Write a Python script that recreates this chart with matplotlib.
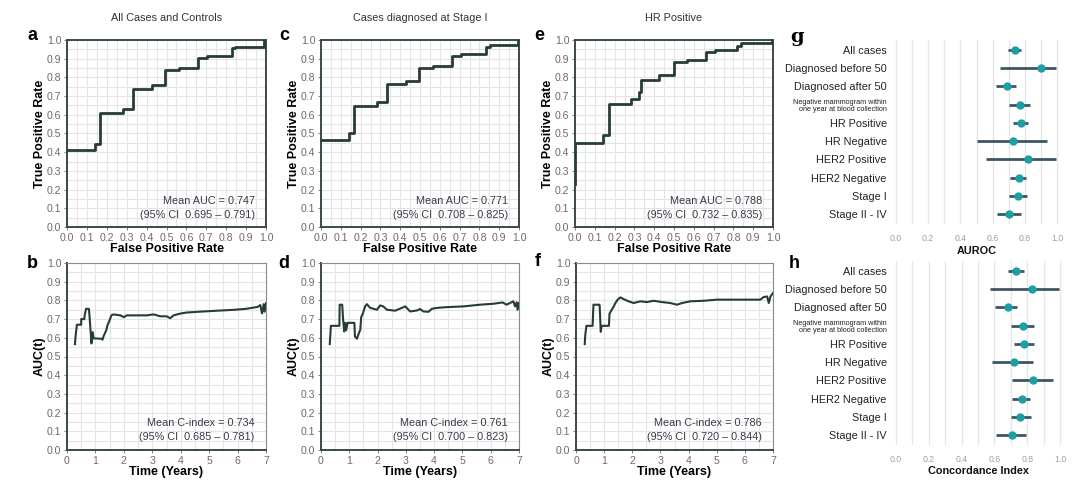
import matplotlib

matplotlib.use("Agg", force=True)
import matplotlib.pyplot as plt
from matplotlib import font_manager
from matplotlib.ticker import MultipleLocator

W, H = 1080, 482

names = {f.name for f in font_manager.fontManager.ttflist}
BASE = "Liberation Sans" if "Liberation Sans" in names else "DejaVu Sans"
NARROW = "Liberation Sans Narrow" if "Liberation Sans Narrow" in names else BASE
plt.rcParams["font.family"] = [BASE, "DejaVu Sans"]

CURVE = "#263d33"
TICK = "#6b6b6b"
GRID = "#e4e4e4"

# ROC step curves (fpr, tpr)
fpr_a = [0, 0.141, 0.166, 0.282, 0.331, 0.425, 0.492, 0.563, 0.659, 0.706, 0.827, 0.845, 0.992, 1.0]
tpr_a = [0.414, 0.446, 0.607, 0.632, 0.738, 0.759, 0.839, 0.852, 0.902, 0.914, 0.955, 0.964, 1.0, 1.0]

fpr_c = [0, 0.141, 0.167, 0.282, 0.333, 0.428, 0.497, 0.568, 0.664, 0.709, 0.833, 0.855, 0.993, 1.0]
tpr_c = [0.467, 0.500, 0.648, 0.670, 0.765, 0.780, 0.850, 0.862, 0.915, 0.925, 0.962, 0.973, 0.995, 0.995]

fpr_e = [0, 0, 0.141, 0.171, 0.281, 0.323, 0.333, 0.425, 0.499, 0.566, 0.661, 0.709, 0.820, 0.840, 0.995, 1.0]
tpr_e = [0.228, 0.449, 0.490, 0.659, 0.684, 0.722, 0.786, 0.811, 0.883, 0.894, 0.937, 0.948, 0.969, 0.982, 0.993, 0.993]

# time-dependent AUC(t)
t_b = [0.28, 0.30, 0.35, 0.50, 0.50, 0.61, 0.62, 0.67, 0.77, 0.79, 0.86, 0.90, 0.94, 1.21, 1.25, 1.29,
       1.38, 1.43, 1.49, 1.56, 1.64, 1.88, 2.00, 2.10, 2.46, 2.80, 3.05, 3.28, 3.50, 3.63, 3.75, 4.00,
       4.20, 4.70, 5.30, 5.90, 6.30, 6.70, 6.80, 6.86, 6.92, 6.95, 7.00]
auc_b = [0.566, 0.607, 0.670, 0.670, 0.700, 0.700, 0.718, 0.755, 0.755, 0.720, 0.570, 0.630, 0.597, 0.595, 0.590, 0.610,
         0.640, 0.670, 0.690, 0.720, 0.725, 0.720, 0.710, 0.720, 0.720, 0.720, 0.725, 0.715, 0.715, 0.705, 0.720, 0.730,
         0.735, 0.740, 0.745, 0.750, 0.755, 0.765, 0.775, 0.730, 0.780, 0.740, 0.785]

t_d = [0.31, 0.35, 0.65, 0.66, 0.75, 0.78, 0.82, 0.86, 0.89, 0.94, 1.18, 1.20, 1.27, 1.34, 1.39, 1.42,
       1.48, 1.56, 1.62, 1.74, 1.98, 2.09, 2.20, 2.33, 2.62, 2.86, 2.98, 3.15, 3.39, 3.50, 3.62, 3.80,
       3.92, 4.10, 4.45, 5.04, 5.62, 6.09, 6.42, 6.56, 6.80, 6.86, 6.92, 6.95, 7.00]
auc_d = [0.566, 0.664, 0.664, 0.777, 0.777, 0.700, 0.634, 0.680, 0.640, 0.680, 0.680, 0.607, 0.595, 0.625, 0.643, 0.710,
         0.730, 0.768, 0.780, 0.760, 0.750, 0.773, 0.768, 0.750, 0.745, 0.760, 0.768, 0.741, 0.746, 0.754, 0.741, 0.739,
         0.755, 0.760, 0.764, 0.768, 0.777, 0.782, 0.789, 0.777, 0.795, 0.768, 0.790, 0.750, 0.786]

t_f = [0.31, 0.33, 0.37, 0.59, 0.62, 0.83, 0.84, 0.88, 0.91, 1.17, 1.19, 1.27, 1.34, 1.40, 1.48, 1.58,
       1.69, 1.87, 2.05, 2.29, 2.52, 2.76, 3.06, 3.35, 3.59, 3.77, 4.06, 4.54, 5.01, 5.96, 6.55, 6.67,
       6.79, 6.85, 6.91, 7.00]
auc_f = [0.566, 0.616, 0.664, 0.664, 0.777, 0.777, 0.773, 0.632, 0.664, 0.664, 0.729, 0.750, 0.768, 0.786, 0.804, 0.816,
         0.807, 0.795, 0.786, 0.795, 0.791, 0.798, 0.791, 0.786, 0.777, 0.786, 0.795, 0.798, 0.804, 0.804, 0.804, 0.818,
         0.821, 0.786, 0.821, 0.839]

# forest plots
subgroups = ["All cases", "Diagnosed before 50", "Diagnosed after 50",
             "Negative mammogram within\none year at blood collection",
             "HR Positive", "HR Negative", "HER2 Positive", "HER2 Negative", "Stage I", "Stage II - IV"]
auroc = [0.736, 0.897, 0.687, 0.769, 0.773, 0.726, 0.821, 0.761, 0.759, 0.703]
auroc_lo = [0.697, 0.647, 0.623, 0.703, 0.728, 0.501, 0.561, 0.709, 0.701, 0.627]
auroc_hi = [0.773, 0.994, 0.744, 0.831, 0.819, 0.934, 0.994, 0.804, 0.810, 0.773]
cindex = [0.732, 0.826, 0.680, 0.773, 0.783, 0.717, 0.836, 0.766, 0.758, 0.705]
cindex_lo = [0.684, 0.576, 0.605, 0.703, 0.721, 0.588, 0.709, 0.709, 0.703, 0.611]
cindex_hi = [0.779, 0.994, 0.740, 0.842, 0.842, 0.834, 0.957, 0.816, 0.822, 0.791]


def px_axes(fig, left, top, right, bottom):
    return fig.add_axes([left / W, 1 - bottom / H, (right - left) / W, (bottom - top) / H])


def style_frame(ax):
    for s in ax.spines.values():
        s.set_color("#3a4a44")
        s.set_linewidth(1.4)
    ax.tick_params(labelsize=7.6, colors=TICK, length=2.5, width=0.6, pad=1.5)
    ax.set_axisbelow(True)


def roc_panel(ax, fpr, tpr, title, auc_txt):
    ax.step(fpr, tpr, where="post", color=CURVE, lw=2.0, zorder=3)
    ax.set_xlim(0, 1)
    ax.set_ylim(0, 1)
    ax.xaxis.set_major_locator(MultipleLocator(0.1))
    ax.yaxis.set_major_locator(MultipleLocator(0.1))
    ax.xaxis.set_minor_locator(MultipleLocator(0.05))
    ax.yaxis.set_minor_locator(MultipleLocator(0.05))
    ax.tick_params(which="minor", length=0)
    ax.grid(True, which="both", color=GRID, lw=0.8)
    style_frame(ax)
    ax.set_title(title, fontsize=7.8, color="#333333", pad=14)
    ax.set_xlabel("False Positive Rate", fontsize=9, fontweight="bold", family=NARROW, labelpad=0)
    ax.set_ylabel("True Positive Rate", fontsize=9, fontweight="bold", family=NARROW, labelpad=1)
    ax.text(0.945, 0.14, auc_txt[0], ha="right", va="center", fontsize=7.8, color="#3a3a4a")
    ax.text(0.945, 0.065, auc_txt[1], ha="right", va="center", fontsize=7.8, color="#3a3a4a")


def auct_panel(ax, t, auc, txt):
    ax.plot(t, auc, color=CURVE, lw=1.5, zorder=3)
    ax.set_xlim(0, 7)
    ax.set_ylim(0, 1)
    ax.xaxis.set_major_locator(MultipleLocator(1))
    ax.xaxis.set_minor_locator(MultipleLocator(0.5))
    ax.yaxis.set_major_locator(MultipleLocator(0.1))
    ax.yaxis.set_minor_locator(MultipleLocator(0.05))
    ax.tick_params(which="minor", length=0)
    ax.grid(True, which="both", color=GRID, lw=0.8)
    style_frame(ax)
    for s in ["top", "right"]:
        ax.spines[s].set_color("#8a8a8a")
        ax.spines[s].set_linewidth(0.8)
    ax.set_xlabel("Time (Years)", fontsize=9, fontweight="bold", family=NARROW, labelpad=0)
    ax.set_ylabel("AUC(t)", fontsize=9, fontweight="bold", family=NARROW, labelpad=1)
    ax.text(6.6, 0.145, txt[0], ha="right", va="center", fontsize=7.8, color="#3a3a4a")
    ax.text(6.6, 0.07, txt[1], ha="right", va="center", fontsize=7.8, color="#3a3a4a")


def forest_panel(ax, est, lo, hi, xlabel):
    ys = list(range(len(subgroups)))
    ax.hlines(ys, lo, hi, color="#3d5664", lw=2.0, zorder=2)
    ax.plot(est, ys, "o", color="#1e9ea3", ms=5, zorder=3)
    ax.set_xlim(-0.03, 1.03)
    ax.set_ylim(9.55, -0.55)
    ax.set_xticks([0, 0.2, 0.4, 0.6, 0.8, 1.0])
    ax.set_xticklabels(["0.0", "0.2", "0.4", "0.6", "0.8", "1.0"])
    ax.xaxis.set_minor_locator(MultipleLocator(0.1))
    ax.grid(True, axis="x", which="both", color="#e6e6e6", lw=0.9)
    ax.set_axisbelow(True)
    ax.set_yticks(ys)
    ax.set_yticklabels(subgroups)
    for lab, name in zip(ax.get_yticklabels(), subgroups):
        lab.set_fontsize(5.2 if "\n" in name else 7.8)
        lab.set_color("#222222")
        if "\n" in name:
            lab.set_linespacing(1.0)
    ax.tick_params(axis="y", length=0, pad=3)
    ax.tick_params(axis="x", which="both", length=0, labelsize=6.3, colors="#a0a0a0", pad=7)
    for s in ax.spines.values():
        s.set_visible(False)
    ax.set_xlabel(xlabel, fontsize=7.8, fontweight="bold", color="#111111", labelpad=2)


fig = plt.figure(figsize=(W / 100, H / 100), dpi=100)

ax_a = px_axes(fig, 67, 40, 266, 227)
ax_b = px_axes(fig, 67, 263, 266, 450)
ax_c = px_axes(fig, 321, 40, 519, 227)
ax_d = px_axes(fig, 321, 263, 519, 450)
ax_e = px_axes(fig, 575, 40, 773, 227)
ax_f = px_axes(fig, 576, 263, 773, 450)
ax_g = px_axes(fig, 891, 40, 1062, 224)
ax_h = px_axes(fig, 891, 261, 1065, 445)

roc_panel(ax_a, fpr_a, tpr_a, "All Cases and Controls", ["Mean AUC = 0.747", "(95% CI  0.695 \u2013 0.791)"])
roc_panel(ax_c, fpr_c, tpr_c, "Cases diagnosed at Stage I", ["Mean AUC = 0.771", "(95% CI  0.708 \u2013 0.825)"])
roc_panel(ax_e, fpr_e, tpr_e, "HR Positive", ["Mean AUC = 0.788", "(95% CI  0.732 \u2013 0.835)"])

auct_panel(ax_b, t_b, auc_b, ["Mean C-index = 0.734", "(95% CI  0.685 \u2013 0.781)"])
auct_panel(ax_d, t_d, auc_d, ["Mean C-index = 0.761", "(95% CI  0.700 \u2013 0.823)"])
auct_panel(ax_f, t_f, auc_f, ["Mean C-index = 0.786", "(95% CI  0.720 \u2013 0.844)"])

forest_panel(ax_g, auroc, auroc_lo, auroc_hi, "AUROC")
forest_panel(ax_h, cindex, cindex_lo, cindex_hi, "Concordance Index")

# panel letters
for letter, x, y, fam in [("a", 32, 36, BASE), ("b", 32, 263, BASE), ("c", 284, 36, BASE),
                          ("d", 284, 263, BASE), ("e", 539, 35, BASE), ("f", 538, 262, BASE),
                          ("h", 794, 263, BASE)]:
    fig.text(x / W, 1 - y / H, letter, fontsize=13, fontweight="bold", ha="center", va="center", family=fam)
fig.text(797 / W, 1 - 37 / H, "g", fontsize=14, fontweight="bold", ha="center", va="center", family="DejaVu Serif")

fig.savefig("out.png", dpi=100)
